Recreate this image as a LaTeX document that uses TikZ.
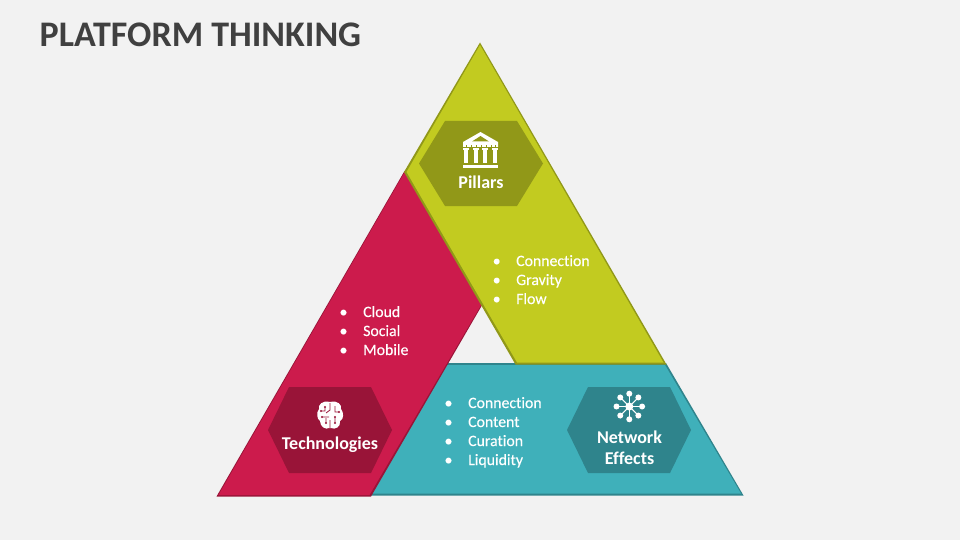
\documentclass[tikz,border=0pt]{standalone}
\usepackage{fontspec}
\usetikzlibrary{calc}
\setmainfont[Ligatures=NoCommon]{Carlito}
\newfontfamily\bodyfont[Ligatures=NoCommon,FakeBold=0.25]{Carlito}
\definecolor{bgc}{HTML}{F2F2F2}
\definecolor{olive}{HTML}{C2CB20}
\definecolor{olivedk}{HTML}{919818}
\definecolor{crim}{HTML}{CC1B4C}
\definecolor{crimdk}{HTML}{991438}
\definecolor{teal1}{HTML}{3FB0BA}
\definecolor{teal2}{HTML}{2F848C}
\definecolor{titlec}{HTML}{404040}
\tikzset{
  x=1pt,y=-1pt,
  hexlabel/.style={text=white,font=\fontsize{18}{21}\selectfont\bfseries,align=center,inner sep=0pt},
  bul/.style={text=white,font=\bodyfont\fontsize{15.8}{19}\selectfont,anchor=base west,inner sep=0pt},
  dotb/.style={text=white,font=\bodyfont\fontsize{15.8}{19}\selectfont,anchor=base,inner sep=0pt},
  trace/.style={crimdk,line width=0.8pt}
}
\begin{document}
\begin{tikzpicture}
\useasboundingbox[fill=bgc] (0,0) rectangle (960,540);
\node[anchor=base west,inner sep=0pt,text=titlec,font=\fontsize{36}{40}\selectfont\bfseries] (title) at (39.5,46.5) {PLATFORM THINKING};
% teal
\fill[teal2] (445,363) -- (666,363) -- (743.5,495.5) -- (371,495.5) -- cycle;
\fill[teal1] (445.5,365) -- (665,365) -- (741,493.5) -- (372,493.5) -- cycle;
% red
\fill[crimdk] (404.5,171) -- (483,303.5) -- (371,496.5) -- (216.5,496.5) -- cycle;
\fill[crim] (404.5,172.5) -- (482,303.5) -- (369.5,495) -- (218.5,495) -- cycle;
% olive
\fill[olivedk] (480,42.5) -- (666.5,364.5) -- (515.5,364.5) -- (404,172) -- cycle;
\fill[olive] (480,45) -- (663.5,362.5) -- (517,362.5) -- (406.5,172) -- cycle;
% hexagons
\fill[olivedk] (419,163.5) -- (445,121) -- (517,121) -- (543,163.5) -- (517,206) -- (445,206) -- cycle;
\fill[crimdk] (268,430) -- (289,387) -- (371,387) -- (392,430) -- (371,473) -- (289,473) -- cycle;
\fill[teal2] (567,430) -- (588,387) -- (670,387) -- (691,430) -- (670,473) -- (588,473) -- cycle;
% hex labels
\node[hexlabel] (pillars) at (481,182) {Pillars};
\node[hexlabel] (tech) at (330,445) {Technologies};
\node[hexlabel] (net) at (629.5,448) {Network\\Effects};
% temple icon
\fill[white] (463,142) -- (480.5,132) -- (498,142) -- (498,147) -- (463,147) -- cycle;
\fill[olivedk] (472,141.5) -- (480.5,136) -- (489,141.5) -- cycle;
\foreach \px in {466,471,476,481,486,491,495}{\fill[olivedk] (\px-0.5,145) rectangle (\px+0.5,147);}
\foreach \px in {465.7,475.7,485.2,494.7}{
  \fill[white] (\px-2.2,150.5) rectangle (\px+2.2,163);
  \fill[white] (\px-3,148.5) rectangle (\px+3,150.5);
}
\fill[white] (463,165) rectangle (498,168);
% brain icon
\fill[white] (330,402) .. controls (322,400) and (318,405) .. (319,409) .. controls (316,413) and (317,419) .. (320,421) .. controls (320,427) and (326,430) .. (329,428) -- (331,428) .. controls (335,430) and (341,427) .. (340,421) .. controls (344,419) and (344,413) .. (341,409) .. controls (342,405) and (338,400) .. (330,402) -- cycle;
\draw[trace] (330,403) -- (330,410) -- (326,413) (325,407) -- (325,411) -- (321,411) (335,406) -- (335,412) -- (339,412) (326,418) -- (326,423) (335,417) -- (335,423) (322,417) -- (329,417) (330,420) -- (330,428);
\foreach \p in {(325,407),(321,411),(339,412),(326,423),(335,423),(322,417),(335,417)}{\fill[crimdk] \p circle (1.2);}
% network icon
\coordinate (nc) at (629.3,406.5);
\foreach \a in {0,45,...,315}{
  \draw[white,line width=1pt] (nc) -- ($(nc)+({12.5*cos(\a)},{12.5*sin(\a)})$);
  \fill[white] ($(nc)+({12.8*cos(\a)},{12.8*sin(\a)})$) circle (3);
}
\fill[white] (nc) circle (4);
% bullets
\foreach \y/\t [count=\i] in {266/Connection,285/Gravity,304/Flow}{
  \node[dotb] (pd\i) at (496.7,\y) {•};
  \node[bul] (pt\i) at (516,\y) {\t};
}
\foreach \y/\t [count=\i] in {317/Cloud,336/Social,355/Mobile}{
  \node[dotb] (td\i) at (343.5,\y) {•};
  \node[bul] (tt\i) at (363,\y) {\t};
}
\foreach \y/\t [count=\i] in {408/Connection,427/Content,446/Curation,465/Liquidity}{
  \node[dotb] (nd\i) at (448.5,\y) {•};
  \node[bul] (nt\i) at (468,\y) {\t};
}
\end{tikzpicture}
\end{document}
